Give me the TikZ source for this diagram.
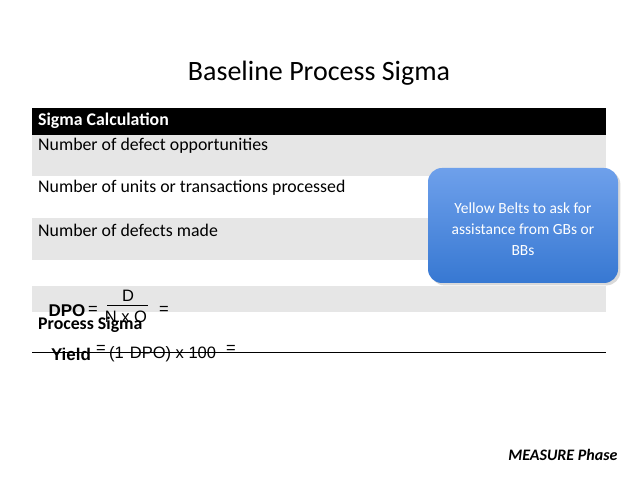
\documentclass[tikz,border=0pt]{standalone}
\usepackage{fontspec}
\setmainfont{Carlito}
\newfontfamily\arial{Liberation Sans}
\usetikzlibrary{shadows}
\definecolor{rowgrey}{RGB}{230,230,230}
\definecolor{bluetop}{RGB}{110,160,235}
\definecolor{bluebot}{RGB}{55,120,210}
\begin{document}
\begin{tikzpicture}[x=1pt,y=-1pt,
  rowtxt/.style={anchor=west,font=\fontsize{17.8}{20}\selectfont,inner sep=0pt},
  frm/.style={font=\arial\fontsize{16.5}{18}\selectfont,inner sep=0pt}]
\useasboundingbox (0,0) rectangle (638,478);
\node[font=\fontsize{28}{32}\selectfont] (title) at (319,73) {Baseline Process Sigma};
\fill[black] (32,108) rectangle (606,135);
\fill[rowgrey] (32,135) rectangle (606,176);
\fill[rowgrey] (32,218) rectangle (606,260);
\fill[rowgrey] (32,286) rectangle (606,312);
\draw[line width=1pt] (32,353) -- (606,353);
\node[rowtxt,text=white,font=\bfseries\fontsize{17.8}{20}\selectfont] (h) at (38,121) {Sigma Calculation};
\node[rowtxt] (r1) at (38,146) {Number of defect opportunities};
\node[rowtxt] (r2) at (38,188) {Number of units or transactions processed};
\node[rowtxt] (r3) at (38,230) {Number of defects made};
\node[rowtxt,font=\bfseries\fontsize{17.8}{20}\selectfont] (ps) at (38,325) {Process Sigma};
\node[frm,font=\arial\bfseries\fontsize{17}{19}\selectfont] (dpo) at (67,311) {DPO};
\node[frm] (eq1) at (93,310) {=};
\node[frm] (D) at (128,296) {D};
\draw (107,305) -- (148,305);
\node[frm] (NxO) at (126,317) {N x O};
\node[frm] (eq2) at (164,310) {=};
\node[frm,font=\arial\bfseries\fontsize{17}{19}\selectfont] (yl) at (71,354) {Yield};
\node[frm] (yf) at (101,349) {=};
\node[frm,anchor=west] (yexpr) at (109,354) {(1\hspace{6pt}DPO) x 100};
\node[frm] (yf2) at (231,349) {=};
\shade[top color=bluetop,bottom color=bluebot,rounded corners=14pt,drop shadow={opacity=0.3}]
  (428,168) rectangle (618,283);
\node[align=center,text=white,font=\fontsize{15.5}{21}\selectfont] (call) at (523,229)
  {Yellow Belts to ask for\\assistance from GBs or\\BBs};
\node[font=\bfseries\itshape\fontsize{16}{18}\selectfont,anchor=east] (mp) at (621,455) {MEASURE Phase};
\end{tikzpicture}
\end{document}
